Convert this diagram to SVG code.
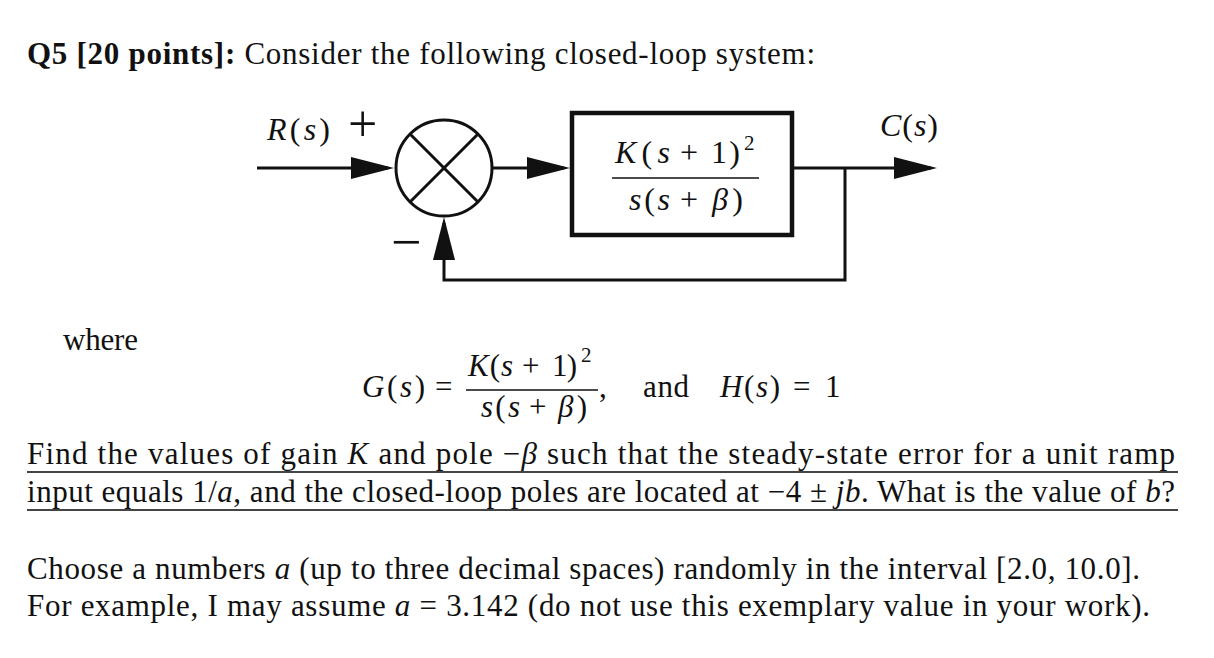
<svg xmlns="http://www.w3.org/2000/svg" width="1214" height="658" viewBox="0 0 1214 658">
<style>
  text { font-family: "Liberation Serif", "Times New Roman", serif; fill: #111; }
  .body { font-size: 31px; }
  .math { font-size: 32px; }
  .eq { font-size: 31px; }
  .it { font-style: italic; }
  .b { font-weight: bold; }
  .sup { font-size: 21px; }
  .line { fill: none; stroke: #111; stroke-width: 3; }
  .bar { stroke: #111; stroke-width: 1.4; }
  .ul { stroke: #444; stroke-width: 1.8; }
</style>
<defs>
  <marker id="arrow" markerUnits="userSpaceOnUse" markerWidth="44" markerHeight="24" refX="37" refY="11" orient="auto" viewBox="0 0 44 22">
    <path d="M0,0 L43,11 L0,22 z" fill="#111"/>
  </marker>
</defs>
<rect width="1214" height="658" fill="#fff"/>

<!-- header text -->
<text class="body" x="27" y="64" textLength="788" lengthAdjust="spacing"><tspan class="b">Q5 [20 points]:</tspan> Consider the following closed-loop system:</text>

<!-- block diagram -->
<g id="connectors">
  <path class="line" d="M257,168 H388" marker-end="url(#arrow)"/>
  <path class="line" d="M493,168 H564" marker-end="url(#arrow)"/>
  <path class="line" d="M794,168 H931" marker-end="url(#arrow)"/>
  <path class="line" d="M845,168 V280 H444 V223" marker-end="url(#arrow)"/>
</g>
<g id="sum">
  <circle cx="444" cy="168" r="48" fill="none" stroke="#111" stroke-width="3"/>
  <line x1="410" y1="134" x2="478" y2="202" stroke="#111" stroke-width="3"/>
  <line x1="478" y1="134" x2="410" y2="202" stroke="#111" stroke-width="3"/>
  <text x="348" y="141" style="font-size:52px">+</text>
  <text x="391" y="260" style="font-size:54px">−</text>
</g>
<g id="plant">
  <rect x="572" y="113" width="220" height="122" fill="#fff" stroke="#111" stroke-width="4.5"/>
  <text class="math" y="163"><tspan x="615" textLength="55" lengthAdjust="spacing"><tspan class="it">K</tspan>(<tspan class="it">s</tspan></tspan><tspan x="680">+</tspan><tspan x="711" textLength="29" lengthAdjust="spacing">1)</tspan></text>
  <text class="sup" x="744" y="150">2</text>
  <line class="bar" x1="612" y1="178" x2="759" y2="178"/>
  <text class="math" y="210"><tspan x="629" textLength="41" lengthAdjust="spacing"><tspan class="it">s</tspan>(<tspan class="it">s</tspan></tspan><tspan x="680">+</tspan><tspan x="712" textLength="31" lengthAdjust="spacing"><tspan class="it">β</tspan>)</tspan></text>
</g>
<g id="input-label">
  <text class="math" x="267" y="140" textLength="63" lengthAdjust="spacing"><tspan class="it">R</tspan>(<tspan class="it">s</tspan>)</text>
</g>
<g id="output-label">
  <text class="math" x="880" y="136" textLength="58" lengthAdjust="spacing"><tspan class="it">C</tspan>(<tspan class="it">s</tspan>)</text>
</g>

<!-- where / equation -->
<text class="body" x="63" y="350" textLength="75" lengthAdjust="spacing">where</text>
<text class="eq" y="397"><tspan x="362" textLength="63" lengthAdjust="spacing"><tspan class="it">G</tspan>(<tspan class="it">s</tspan>)</tspan><tspan x="435">=</tspan></text>
<text class="eq" y="376"><tspan x="468" textLength="45" lengthAdjust="spacing"><tspan class="it">K</tspan>(<tspan class="it">s</tspan></tspan><tspan x="522">+</tspan><tspan x="552" textLength="25" lengthAdjust="spacing">1)</tspan></text>
<text class="sup" x="581" y="362">2</text>
<line class="bar" x1="466" y1="390" x2="598" y2="390"/>
<text class="eq" y="417"><tspan x="481" textLength="39" lengthAdjust="spacing"><tspan class="it">s</tspan>(<tspan class="it">s</tspan></tspan><tspan x="529">+</tspan><tspan x="558" textLength="29" lengthAdjust="spacing"><tspan class="it">β</tspan>)</tspan></text>
<text class="eq" x="599" y="397">,</text>
<text class="body" x="643" y="397" textLength="46" lengthAdjust="spacing">and</text>
<text class="eq" y="397"><tspan x="720" textLength="60" lengthAdjust="spacing"><tspan class="it">H</tspan>(<tspan class="it">s</tspan>)</tspan><tspan x="793">=</tspan><tspan x="825">1</tspan></text>

<!-- question -->
<text class="body" x="27" y="464" textLength="1148" lengthAdjust="spacing">Find the values of gain <tspan class="it">K</tspan> and pole −<tspan class="it">β</tspan> such that the steady-state error for a unit ramp</text>
<line class="ul" x1="27" y1="472" x2="1178" y2="472"/>
<text class="body" x="27" y="502" textLength="1148" lengthAdjust="spacing">input equals 1/<tspan class="it">a</tspan>, and the closed-loop poles are located at −4 ± <tspan class="it">jb</tspan>. What is the value of <tspan class="it">b</tspan>?</text>
<line class="ul" x1="27" y1="510" x2="1178" y2="510"/>

<text class="body" x="27" y="579" textLength="1113" lengthAdjust="spacing">Choose a numbers <tspan class="it">a</tspan> (up to three decimal spaces) randomly in the interval [2.0, 10.0].</text>
<text class="body" x="27" y="616" textLength="1123" lengthAdjust="spacing">For example, I may assume <tspan class="it">a</tspan> = 3.142 (do not use this exemplary value in your work).</text>
</svg>
